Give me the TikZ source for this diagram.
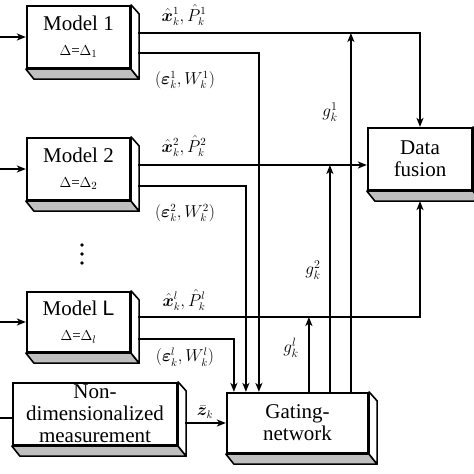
\documentclass[tikz,border=0pt]{standalone}
\usepackage{amsmath,bm}
\usepackage{fontspec}
\setmainfont{Liberation Serif}
\setsansfont{Liberation Sans}
\usetikzlibrary{calc,arrows.meta}
\tikzset{
  blk/.style={draw, line width=2.2pt, fill=white, inner sep=0pt, align=center,
    font=\fontsize{21}{22}\selectfont},
  conn/.style={line width=1.6pt},
  arr/.style={conn,-{Stealth[length=9pt,width=7pt,inset=2.5pt]}},
  lbl/.style={font=\fontsize{16}{18}\selectfont, inner sep=0pt},
  glbl/.style={font=\fontsize{17}{19}\selectfont, inner sep=0pt},
  bottomface/.style={fill=black!25, draw=black, line width=1.6pt, line join=round},
  sideface/.style={fill=white, draw=black, line width=1.6pt, line join=round},
}
\newcommand\depthbox[1]{%
  \path[bottomface] (#1.south west) -- (#1.south east) -- ($(#1.south east)+(8,10)$) -- ($(#1.south west)+(8,10)$) -- cycle;
  \path[sideface] (#1.north east) -- ($(#1.north east)+(8,9)$) -- ($(#1.south east)+(8,10)$) -- (#1.south east) -- cycle;
}
\newcommand\dsub[1]{{\fontsize{15}{15}\selectfont $\Delta$=$\Delta_{#1}$}}
\begin{document}
\begin{tikzpicture}[x=1pt,y=-1pt]
\useasboundingbox (0,0) rectangle (474,474);
% blocks
\node[blk, minimum width=103pt, minimum height=62pt] (m1) at (78.5,37) {Model 1\\[3pt]\dsub{1}};
\node[blk, minimum width=103pt, minimum height=62pt] (m2) at (78.5,169) {Model 2\\[3pt]\dsub{2}};
\node[blk, minimum width=103pt, minimum height=60pt] (mL) at (78.5,322) {Model {\sffamily L}\\[3pt]\dsub{l}};
\node[blk, minimum width=164pt, minimum height=62pt] (nd) at (95,414) {Non-\\dimensionalized\\measurement};
\node[blk, minimum width=141pt, minimum height=60pt] (gate) at (297.5,423) {Gating-\\network};
\node[blk, minimum width=104pt, minimum height=62pt] (df) at (420,159) {Data\\fusion};
\depthbox{m1}\depthbox{m2}\depthbox{mL}\depthbox{nd}\depthbox{gate}\depthbox{df}
% dots
\fill (82,245) circle (1.8) (82,254) circle (1.8) (82,263) circle (1.8);
% inputs
\coordinate (i1) at (0,37);
\coordinate (i2) at (0,169);
\coordinate (i3) at (0,322);
\coordinate (i4) at (0,418);
\draw[arr] (i1) -- (m1.west);
\draw[arr] (i2) -- (m2.west);
\draw[arr] (i3) -- (mL.west);
\draw[conn] (i4) -- (nd.west |- i4);
% output points
\coordinate (m1a) at (138,33);
\coordinate (m1b) at (138,53);
\coordinate (m2a) at (138,165);
\coordinate (m2b) at (138,186);
\coordinate (mLa) at (138,317);
\coordinate (mLb) at (138,339);
\coordinate (ndo) at (185,423);
% gate top points
\coordinate (e3) at ($(gate.north west)+(8,0)$);
\coordinate (e2) at ($(gate.north west)+(20,0)$);
\coordinate (e1) at ($(gate.north west)+(33,0)$);
\coordinate (g3) at ($(gate.north west)+(83,0)$);
\coordinate (g2) at ($(gate.north west)+(104,0)$);
\coordinate (g1) at ($(gate.north west)+(125,0)$);
% x-hat lines
\draw[arr] (m1a) -| (df.north);
\draw[arr] (m2a) -- (df.west |- m2a);
\draw[arr] (mLa) -| ($(df.south)+(0,10)$);
% epsilon lines
\draw[arr] (m1b) -| (e1);
\draw[arr] (m2b) -| (e2);
\draw[arr] (mLb) -| (e3);
% gating outputs
\draw[arr] (g1) -- (g1 |- m1a);
\draw[arr] (g2) -- (g2 |- m2a);
\draw[arr] (g3) -- (g3 |- mLa);
% z
\draw[arr] (ndo) -- (gate.west |- ndo);
% labels
\node[lbl] (l1) at (184,15) {$\hat{\bm{x}}_k^1,\hat{P}_k^1$};
\node[lbl] (l2) at (184,146) {$\hat{\bm{x}}_k^2,\hat{P}_k^2$};
\node[lbl] (l3) at (184,300) {$\hat{\bm{x}}_k^l,\hat{P}_k^l$};
\node[lbl] (q1) at (185,80) {$\left(\bm{\varepsilon}_k^1,W_k^1\right)$};
\node[lbl] (q2) at (185,213) {$\left(\bm{\varepsilon}_k^2,W_k^2\right)$};
\node[lbl] (q3) at (185,357) {$\left(\bm{\varepsilon}_k^l,W_k^l\right)$};
\node[glbl] (h1) at (330,112) {$g_k^1$};
\node[glbl] (h2) at (313,270) {$g_k^2$};
\node[glbl] (h3) at (291,348) {$g_k^l$};
\node[lbl] (zl) at (205,412) {$\bar{\bm{z}}_k$};
\end{tikzpicture}
\end{document}
